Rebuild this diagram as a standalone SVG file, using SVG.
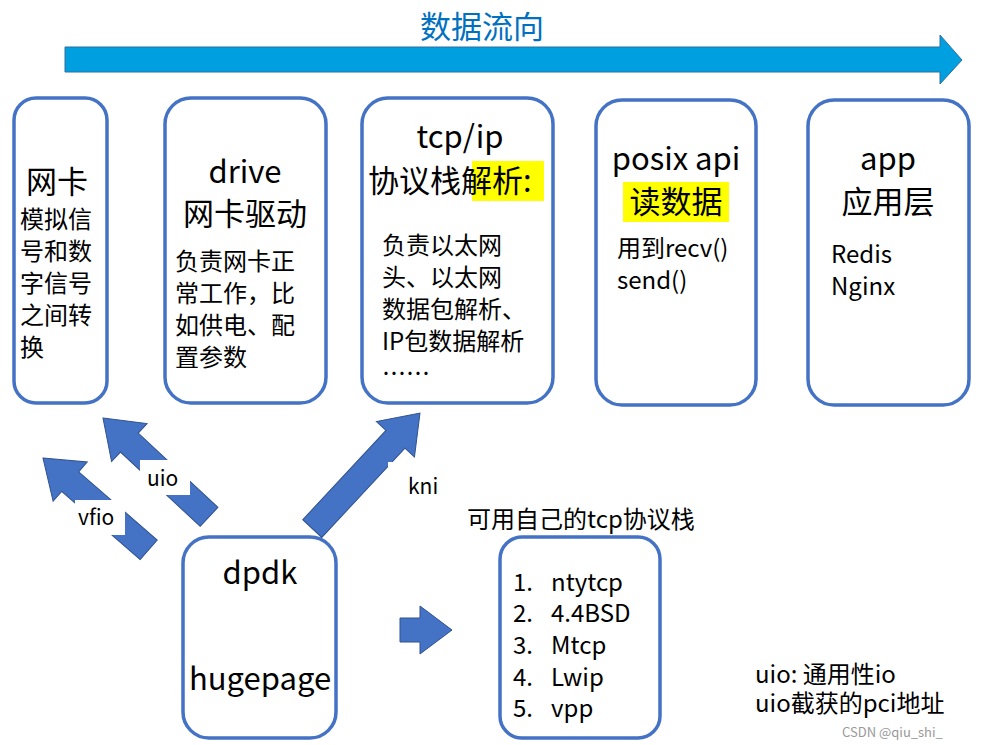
<svg xmlns="http://www.w3.org/2000/svg" width="983" height="745" viewBox="0 0 983 745">
<style>
.b{fill:#fff;stroke:#4472c4;stroke-width:3.5}
text{font-family:"Noto Sans CJK SC","Noto Sans",sans-serif;fill:#000}
.a{fill:#4472c4;stroke:#2f528f;stroke-width:1}
.t{font-size:31px}
.s{font-size:24px}
</style>
<rect width="983" height="745" fill="#fff"/>
<g id="flow">
<polygon points="65,47 940,47 940,35 962,60 940,84 940,72 65,72" fill="#009fdf" stroke="#2f6f9f" stroke-width="1"/>
<text x="482" y="38" text-anchor="middle" font-size="31" style="fill:#0070c0">数据流向</text>
</g>
<g id="nic"><rect class="b" x="14" y="98" width="93" height="305" rx="22"/>
<text class="t" x="26" y="193">网卡</text>
<text class="s" x="20" y="228">模拟信</text><text class="s" x="20" y="260">号和数</text><text class="s" x="20" y="292">字信号</text><text class="s" x="20" y="324">之间转</text><text class="s" x="20" y="356">换</text></g>
<g id="drive"><rect class="b" x="165" y="98" width="161" height="305" rx="26"/>
<text class="t" x="245" y="183" text-anchor="middle">drive</text><text class="t" x="245" y="225" text-anchor="middle">网卡驱动</text>
<text class="s" x="175" y="270">负责网卡正</text><text class="s" x="175" y="302">常工作，比</text><text class="s" x="175" y="334">如供电、配</text><text class="s" x="175" y="366">置参数</text></g>
<g id="tcpip"><rect class="b" x="362" y="98" width="191" height="305" rx="26"/>
<text class="t" x="460" y="148" text-anchor="middle">tcp/ip</text>
<rect x="472" y="161" width="72" height="40" fill="#ffff00"/>
<text class="t" x="368" y="192">协议栈解析:</text>
<text class="s" x="382" y="254">负责以太网</text><text class="s" x="382" y="286">头、以太网</text><text class="s" x="382" y="318">数据包解析、</text><text class="s" x="382" y="350">IP包数据解析</text><text class="s" x="382" y="382">……</text></g>
<g id="posix"><rect class="b" x="596" y="100" width="160" height="305" rx="26"/>
<text class="t" x="676" y="170" text-anchor="middle">posix api</text>
<rect x="623" y="182" width="106" height="40" fill="#ffff00"/>
<text class="t" x="676" y="213" text-anchor="middle">读数据</text>
<text class="s" x="617" y="257">用到recv()</text><text class="s" x="617" y="289">send()</text></g>
<g id="app"><rect class="b" x="808" y="100" width="161" height="305" rx="26"/>
<text class="t" x="888" y="170" text-anchor="middle">app</text><text class="t" x="888" y="213" text-anchor="middle">应用层</text>
<text class="s" x="831" y="263">Redis</text><text class="s" x="831" y="295">Nginx</text></g>
<g id="dpdk"><rect class="b" x="183" y="537" width="153" height="201" rx="26"/>
<text class="t" x="260" y="584" text-anchor="middle">dpdk</text>
<text class="t" x="260" y="690" text-anchor="middle">hugepage</text></g>
<g id="stacks"><text class="s" x="467" y="528">可用自己的tcp协议栈</text>
<rect class="b" x="500" y="537" width="160" height="201" rx="22"/>
<text class="s" x="513" y="591">1.</text><text class="s" x="551" y="591">ntytcp</text>
<text class="s" x="513" y="622">2.</text><text class="s" x="551" y="622">4.4BSD</text>
<text class="s" x="513" y="654">3.</text><text class="s" x="551" y="654">Mtcp</text>
<text class="s" x="513" y="686">4.</text><text class="s" x="551" y="686">Lwip</text>
<text class="s" x="513" y="717">5.</text><text class="s" x="551" y="717">vpp</text></g>
<g id="note"><text class="s" x="755" y="683">uio: 通用性io</text><text class="s" x="755" y="712">uio截获的pci地址</text>
<text x="842" y="737" font-size="13" style="fill:#999">CSDN @qiu_shi_</text></g>
<g id="connectors">
<polygon class="a" transform="translate(103,418) rotate(43)" points="0,0 36,-26 36,-13 145,-13 145,13 36,13 36,26"/>
<polygon class="a" transform="translate(43,458) rotate(41)" points="0,0 36,-26 36,-13 140,-13 140,13 36,13 36,26"/>
<polygon class="a" transform="translate(420,413) rotate(133)" points="0,0 36,-26 36,-13 158,-13 158,13 36,13 36,26"/>
<polygon class="a" points="400,618 420,618 420,606 452,630 420,654 420,642 400,642"/>
<rect x="140" y="460" width="50" height="35" fill="#fff"/>
<rect x="75" y="500" width="50" height="35" fill="#fff"/>
<rect x="388" y="462" width="55" height="40" fill="#fff"/>
<text x="147" y="486" font-size="21">uio</text>
<text x="78" y="525" font-size="21">vfio</text>
<text x="408" y="494" font-size="21">kni</text>
</g>
</svg>
